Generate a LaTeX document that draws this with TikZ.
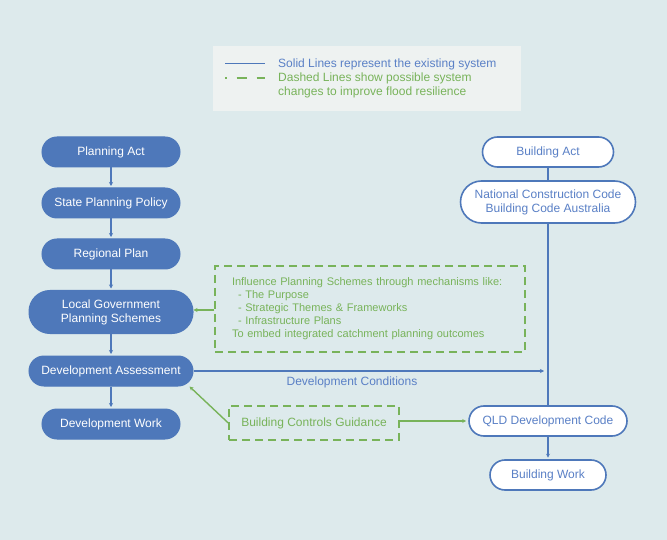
\documentclass[tikz,border=0pt]{standalone}
\usepackage{fontspec}
\setmainfont{Liberation Sans}
\usetikzlibrary{arrows.meta}

\definecolor{bgcol}{HTML}{DDEAEC}
\definecolor{legcol}{HTML}{EEF2F1}
\definecolor{planblue}{HTML}{4E78BA}
\definecolor{textblue}{HTML}{5A80C6}
\definecolor{leafgreen}{HTML}{78B35A}

\begin{document}
\begin{tikzpicture}[x=1pt, y=-1pt, font=\fontsize{12}{14}\selectfont,
    plannode/.style={draw=planblue, fill=planblue, text=white, line width=1pt,
        rounded corners=15pt, minimum width=138pt, minimum height=30pt, align=center},
    buildnode/.style={draw=planblue, fill=white, text=textblue, line width=1.6pt,
        rounded corners=15pt, minimum height=30pt, align=center},
    greenbox/.style={draw=leafgreen, text=leafgreen, line width=1.4pt,
        dash pattern=on 8pt off 5pt},
    bluearrow/.style={draw=planblue, line width=1.2pt, -{Stealth[length=4pt,width=4pt]}},
    greenarrow/.style={draw=leafgreen, line width=1.4pt, -{Stealth[length=4pt,width=4pt]}}]
    \useasboundingbox (0,0) rectangle (667,540);
    \fill[bgcol] (0,0) rectangle (667,540);

    % legend
    \fill[legcol] (213,46) rectangle (521,111);
    \coordinate (solidA) at (225,64);
    \coordinate (solidB) at (265,64);
    \coordinate (dashA) at (225,78);
    \coordinate (dashB) at (265,78);
    \draw[planblue, line width=1pt] (solidA) -- (solidB);
    \draw[leafgreen, line width=1.4pt, dash pattern=on 10pt off 10pt, dash phase=8.5pt] (dashA) -- (dashB);
    \node[anchor=west, text=textblue, inner sep=0pt] (solidtxt) at (278,64) {Solid Lines represent the existing system};
    \node[anchor=north west, text=leafgreen, inner sep=0pt, align=left] (dashtxt) at (278,73)
        {Dashed Lines show possible system\\changes to improve flood resilience};

    % planning side
    \node[plannode] (pa) at (111,152) {Planning Act};
    \node[plannode] (spp) at (111,203) {State Planning Policy};
    \node[plannode] (rp) at (111,254) {Regional Plan};
    \node[plannode, minimum width=164pt, minimum height=43pt, rounded corners=21pt] (lgps) at (111,312)
        {Local Government\\Planning Schemes};
    \node[plannode, minimum width=164pt] (da) at (111,371) {Development Assessment};
    \node[plannode] (dw) at (111,424) {Development Work};

    \draw[bluearrow, shorten >=1.5pt] (pa) -- (spp);
    \draw[bluearrow, shorten >=1.5pt] (spp) -- (rp);
    \draw[bluearrow, shorten >=1.5pt] (rp) -- (lgps);
    \draw[bluearrow, shorten >=1.5pt] (lgps) -- (da);
    \draw[bluearrow, shorten >=1.5pt] (da) -- (dw);

    % building side
    \node[buildnode, minimum width=131pt] (ba) at (548,152) {Building Act};
    \node[buildnode, minimum width=175pt, minimum height=42pt, rounded corners=21pt] (ncc) at (548,202)
        {National Construction Code\\Building Code Australia};
    \node[buildnode, minimum width=158pt] (qld) at (548,421) {QLD Development Code};
    \node[buildnode, minimum width=116pt] (bw) at (548,475) {Building Work};

    \draw[planblue, line width=1.2pt] (ba) -- (ncc);
    \draw[planblue, line width=1.2pt] (ncc) -- (qld);
    \draw[bluearrow, shorten >=1.5pt] (qld) -- (bw);

    % development conditions
    \coordinate (dcend) at (544,371);
    \draw[bluearrow] (da.east) -- (dcend);
    \node[text=textblue] (dclabel) at (352,382) {Development Conditions};

    % proposed changes
    \node[greenbox, font=\fontsize{11}{13}\selectfont, text width=276pt, inner xsep=17pt, minimum height=86pt,
        align=left] (infl) at (370,309)
        {Influence Planning Schemes through mechanisms like:\\
         \hspace*{6pt}- The Purpose\\
         \hspace*{6pt}- Strategic Themes \& Frameworks\\
         \hspace*{6pt}- Infrastructure Plans\\
         To embed integrated catchment planning outcomes};
    \node[greenbox, minimum width=170pt, minimum height=34pt] (bcg) at (314,423) {Building Controls Guidance};

    \draw[greenarrow] (infl.west |- 0,310) -- (lgps.east |- 0,310);
    \draw[greenarrow] (bcg.west) -- ([xshift=-4pt]da.south east);
    \draw[greenarrow, shorten >=2pt] (bcg.east |- qld) -- (qld.west);
\end{tikzpicture}
\end{document}
